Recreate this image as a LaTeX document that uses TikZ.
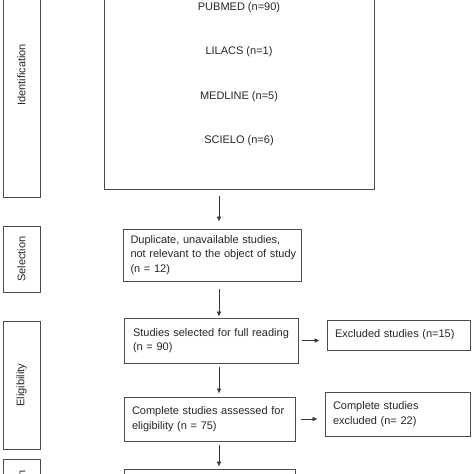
\documentclass[tikz,border=0pt]{standalone}
\usepackage{fontspec}
\setmainfont{Liberation Sans}
\usepackage{tikz}
\usetikzlibrary{arrows.meta}
\tikzstyle{stage} = [rectangle, rotate=90, minimum height=37, draw=black!70, line width=0.9pt]
\tikzstyle{process} = [rectangle, minimum width=171, minimum height=44, text width=155, align=left, inner sep=0pt, draw=black!70, line width=0.9pt]
\tikzstyle{plain} = [inner sep=0pt]
\tikzstyle{arrow} = [line width=0.6pt, draw=black!80, ->, >={Latex[length=5pt,width=4.5pt]}]

\begin{document}
\begin{tikzpicture}[x=1pt, y=-1pt, font=\fontsize{11}{14.5}\selectfont, text=black!85]
    \useasboundingbox (0,0) rectangle (474,474);
    \clip (0,0) rectangle (474,474);

    % stages on the left
    \node (identside) [stage, minimum width=244] at (21.5,75) {Identification};
    \node (selside) [stage, minimum width=66] at (21.5,259) {Selection};
    \node (eligside) [stage, minimum width=128] at (21.5,385) {Eligibility};
    \node (inclside) [stage, minimum width=66] at (21.5,492) {Inclusion};

    % databases
    \node (search) [rectangle, minimum width=270, minimum height=210, draw=black!70, line width=0.9pt] at (239,84.5) {};
    \node (pubmed) [plain] at (239,8) {PUBMED (n=90)};
    \node (lilacs) [plain] at (239,52) {LILACS (n=1)};
    \node (medline) [plain] at (239,97) {MEDLINE (n=5)};
    \node (scielo) [plain] at (239,141) {SCIELO (n=6)};

    \node (dup) [process, minimum width=178, minimum height=52, text width=163] at (212,255)
        {\makebox[162pt][s]{Duplicate, unavailable studies,}\\
         \makebox[162pt][s]{not relevant to the object of study}\\ (n = 12)};
    \node (sel) [process, minimum width=174, minimum height=45, text width=156] at (211,340.5)
        {Studies selected for full reading\\ (n = 90)};
    \node (excl1) [process, minimum width=143, minimum height=30, text width=127] at (398.5,335)
        {Excluded studies (n=15)};
    \node (assess) [process, text width=155] at (209.5,419)
        {Complete studies assessed for\\ eligibility (n = 75)};
    \node (excl2) [process, minimum width=145, text width=129] at (397.5,414)
        {Complete studies\\ excluded (n= 22)};
    \node (incl) [process, minimum height=60] at (209.5,499) {};

    \coordinate (trunk) at (219,0);

    \draw [arrow, shorten <=6pt, shorten >=7pt] (search.south -| trunk) -- (dup.north -| trunk);
    \draw [arrow, shorten <=8pt, shorten >=1pt] (dup.south -| trunk) -- (sel.north -| trunk);
    \draw [arrow, shorten <=4pt, shorten >=3pt] (sel.south -| trunk) -- (assess.north -| trunk);
    \draw [arrow, shorten <=4pt, shorten >=2pt] (assess.south -| trunk) -- (incl.north -| trunk);
    \draw [arrow, shorten <=4pt, shorten >=7pt] (sel.east) -- (sel.east -| excl1.west);
    \draw [arrow, shorten <=6pt, shorten >=7pt] (assess.east) -- (assess.east -| excl2.west);

\end{tikzpicture}
\end{document}
